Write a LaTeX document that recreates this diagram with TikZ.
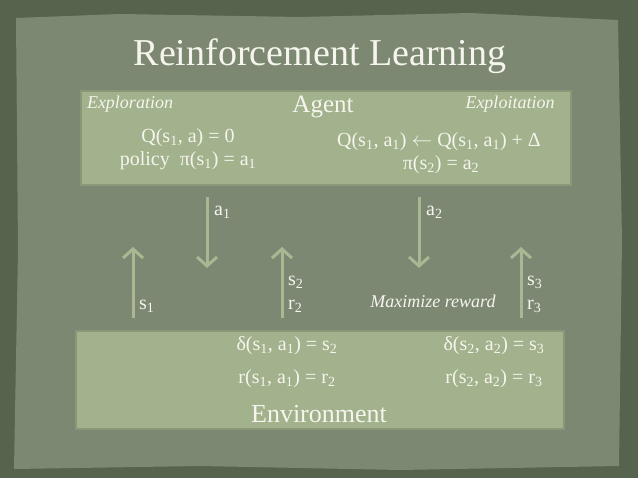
\documentclass[tikz,border=0pt]{standalone}
\usepackage{fontspec}
\setmainfont{Liberation Serif}
\usetikzlibrary{arrows.meta,positioning}
\definecolor{slatebg}{HTML}{56634D}
\definecolor{paper}{HTML}{7D8873}
\definecolor{boxfill}{HTML}{A2B28C}
\definecolor{boxline}{HTML}{8A9878}
\definecolor{arrowcol}{HTML}{A8B893}
\definecolor{chalk}{HTML}{F5F5EE}
\tikzset{
  panel/.style={ draw=boxline, line width=2pt, fill=boxfill, inner sep=0pt }
}
\tikzset{
  txt/.style={ text=chalk, font=\fontsize{20}{22}\selectfont, inner sep=0pt }
}
\tikzset{
  note/.style={ text=chalk, font=\fontsize{18}{20}\selectfont\itshape, inner sep=0pt }
}
\tikzset{
  flow/.style={ draw=arrowcol, line width=3pt, -{Straight Barb[length=9pt, width=20pt]} }
}
\newcommand{\sub}[1]{\textsubscript{#1}}

\begin{document}
\begin{tikzpicture}[x=1pt, y=-1pt]
      % slate and paper
      \fill[slatebg] (0, 0) rectangle (638, 478);
      \fill[paper] (16, 18) -- (120, 14) -- (300, 17) -- (470, 13) -- (618, 20)
        -- (622, 240) -- (619, 466) -- (400, 470) -- (200, 466) -- (14, 469)
        -- (18, 250) -- cycle;
      \node[txt, font=\fontsize{38}{42}\selectfont] (title) at (320, 56) {Reinforcement Learning};

      % agent
      \node[panel, minimum width=490pt, minimum height=94pt, anchor=north west] (agent) at (80, 90) {};
      \node[txt, font=\fontsize{25}{27}\selectfont] (agentlbl) at (323, 107) {Agent};
      \node[note] (explore) at (130, 104) {Exploration};
      \node[note] (exploit) at (510, 104) {Exploitation};
      \node[txt] (q0) at (188, 138) {Q(s\sub{1}, a) = 0};
      \node[txt] (pi1) at (188, 161) {policy\ \ π(s\sub{1}) = a\sub{1}};
      \node[txt] (qup) at (439, 142) {Q(s\sub{1}, a\sub{1}) $\leftarrow$ Q(s\sub{1}, a\sub{1}) + Δ};
      \node[txt] (pi2) at (441, 165) {π(s\sub{2}) = a\sub{2}};

      % environment
      \node[panel, minimum width=488pt, minimum height=98pt, anchor=north west] (env) at (75, 330) {};
      \node[txt] (d1) at (287, 346) {δ(s\sub{1}, a\sub{1}) = s\sub{2}};
      \node[txt] (r1) at (287, 379) {r(s\sub{1}, a\sub{1}) = r\sub{2}};
      \node[txt] (d2) at (494, 346) {δ(s\sub{2}, a\sub{2}) = s\sub{3}};
      \node[txt] (r2) at (494, 379) {r(s\sub{2}, a\sub{2}) = r\sub{3}};
      \node[txt, font=\fontsize{26}{28}\selectfont] (envlbl) at (319, 414) {Environment};

      % actions and states
      \coordinate (a1top) at (207, 197);
      \coordinate (a1bot) at (207, 268);
      \draw[flow] (a1top) -- (a1bot);
      \node[txt, anchor=west] (a1) at (214, 212) {a\sub{1}};

      \coordinate (a2top) at (419, 197);
      \coordinate (a2bot) at (419, 268);
      \draw[flow] (a2top) -- (a2bot);
      \node[txt, anchor=west] (a2) at (426, 212) {a\sub{2}};

      \coordinate (s1bot) at (133, 318);
      \coordinate (s1top) at (133, 247);
      \draw[flow] (s1bot) -- (s1top);
      \node[txt, anchor=west] (s1) at (139, 306) {s\sub{1}};

      \coordinate (s2bot) at (282, 318);
      \coordinate (s2top) at (282, 247);
      \draw[flow] (s2bot) -- (s2top);
      \node[txt, anchor=west] (s2) at (288, 282) {s\sub{2}};
      \node[txt, anchor=west] (rw2) at (288, 306) {r\sub{2}};

      \coordinate (s3bot) at (521, 318);
      \coordinate (s3top) at (521, 247);
      \draw[flow] (s3bot) -- (s3top);
      \node[txt, anchor=west] (s3) at (527, 282) {s\sub{3}};
      \node[txt, anchor=west] (rw3) at (527, 306) {r\sub{3}};

      \node[note] (maxrw) at (433, 301) {Maximize reward};
    \end{tikzpicture}
\end{document}
